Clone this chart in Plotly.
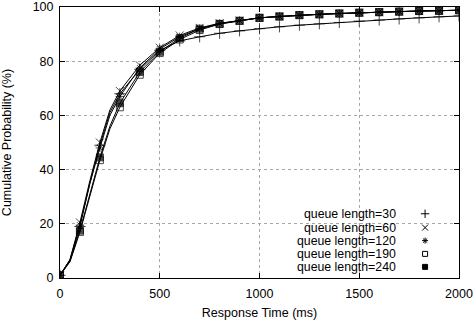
import plotly.graph_objects as go

times = [0, 50, 100, 150, 200, 250, 300, 400, 500, 600, 700, 800, 900, 1000,
         1100, 1200, 1300, 1400, 1500, 1600, 1700, 1800, 1900, 2000]
q30 = [1, 6.5, 19, 35, 49, 61, 68, 77, 84, 87.5, 89, 90.3, 91.2, 92,
       92.7, 93.3, 93.8, 94.3, 94.8, 95.2, 95.6, 96, 96.4, 96.7]
q60 = [1, 6.8, 20.5, 36, 50, 62, 69, 78.5, 85, 89.5, 92.3, 94, 95, 96,
       96.5, 97, 97.3, 97.6, 97.9, 98.1, 98.3, 98.5, 98.6, 98.8]
q120 = [1, 6.7, 19.5, 35, 48, 60, 67, 77.5, 84.5, 89, 92, 93.9, 95, 96,
        96.5, 97, 97.3, 97.6, 97.9, 98.1, 98.3, 98.5, 98.6, 98.8]
q190 = [1, 6, 17, 30, 43.5, 55, 63, 75, 83, 88, 91.5, 93.7, 94.9, 96,
        96.5, 97, 97.3, 97.6, 97.9, 98.1, 98.3, 98.5, 98.6, 98.8]
q240 = [1, 6.2, 17.5, 31, 44.5, 56, 64.5, 76, 83.5, 88.5, 92, 93.8, 94.9, 96,
        96.5, 97, 97.3, 97.6, 97.9, 98.1, 98.3, 98.5, 98.6, 98.8]

names = ["queue length=30", "queue length=60", "queue length=120",
         "queue length=190", "queue length=240"]
series = [q30, q60, q120, q190, q240]
symbols = ["cross-thin-open", "x-thin-open", "asterisk-open", "square-open", "square"]
sizes = [8, 8, 7, 7, 7]
leg_sizes = [6, 6, 5, 5, 5]

FONT = "Liberation Sans"

fig = go.Figure()
for s, sym, sz in zip(series, symbols, sizes):
    msize = [sz if t % 100 == 0 else 0 for t in times]
    fig.add_trace(go.Scatter(
        x=times, y=s, mode="lines+markers",
        line=dict(color="black", width=1),
        marker=dict(symbol=sym, size=msize, color="black",
                    line=dict(color="black", width=1)),
        showlegend=False))

# custom legend (text right-aligned, symbol to the right)
leg_y = [0.237, 0.186, 0.138, 0.089, 0.041]
for n, sym, sz, yy in zip(names, symbols, leg_sizes, leg_y):
    fig.add_annotation(x=0.845, y=yy, xref="paper", yref="paper", text=n,
                       showarrow=False, xanchor="right", yanchor="middle",
                       borderpad=0,
                       font=dict(size=12.3, color="black", family=FONT))
    fig.add_trace(go.Scatter(x=[0.915], y=[yy], xaxis="x2", yaxis="y2",
                             mode="markers", showlegend=False,
                             marker=dict(symbol=sym, size=sz, color="black",
                                         line=dict(color="black", width=1))))

axis_common = dict(showline=True, linecolor="black", linewidth=1, mirror="ticks",
                   ticks="inside", ticklen=5, tickcolor="black",
                   showgrid=True, gridcolor="#a8a8a8", griddash="dot", gridwidth=1,
                   zeroline=False, ticklabeloverflow="allow", automargin=False,
                   tickfont=dict(size=12.5, color="black", family=FONT))

fig.update_layout(
    width=474, height=321,
    margin=dict(l=60, r=15, t=7, b=43),
    plot_bgcolor="white", paper_bgcolor="white",
    xaxis=dict(range=[0, 2000], tickvals=[0, 500, 1000, 1500, 2000],
               ticklabelstandoff=4,
               title=dict(text="Response Time (ms)", standoff=8,
                          font=dict(size=12.5, color="black", family=FONT)),
               **axis_common),
    yaxis=dict(range=[0, 100], tickvals=[0, 20, 40, 60, 80, 100],
               ticklabelstandoff=3,
               title=dict(text="Cumulative Probability (%)", standoff=20,
                          font=dict(size=12.5, color="black", family=FONT)),
               **axis_common),
    xaxis2=dict(range=[0, 1], overlaying="x", visible=False, fixedrange=True),
    yaxis2=dict(range=[0, 1], overlaying="y", visible=False, fixedrange=True),
)

fig.write_html("out.html")
